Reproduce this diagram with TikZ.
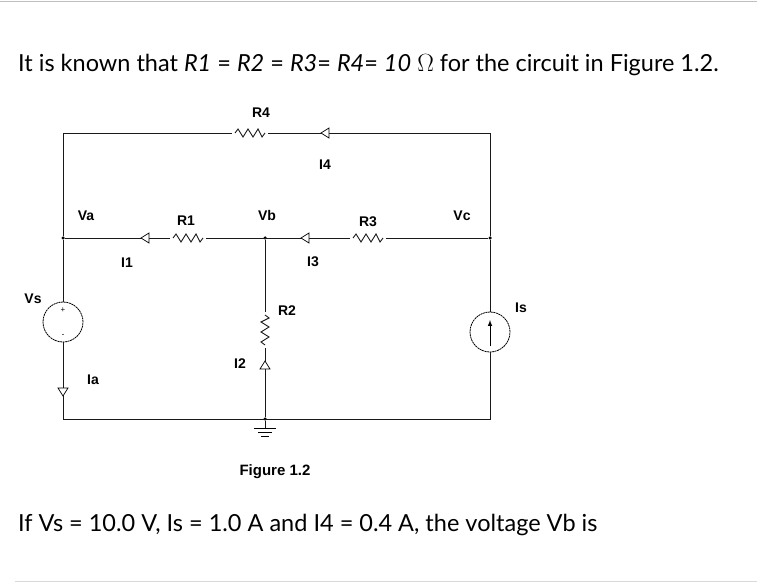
\documentclass[tikz,border=0pt]{standalone}
\usepackage{fontspec}
\setmainfont{Lato}
\newfontfamily\lbl{Liberation Sans}
\begin{document}
\begin{tikzpicture}[x=1pt,y=-1pt,
  wire/.style={line width=0.9pt,gray!20!black},
  lab/.style={font=\lbl\bfseries\fontsize{14}{15}\selectfont,inner sep=1pt},
  txt/.style={font=\fontsize{23.5}{26}\selectfont,inner sep=0pt,anchor=west},
  res/.pic={\draw[wire] (-15,0) -- (-12,-4) -- (-7,4) -- (-2,-4) -- (3,4) -- (8,-4) -- (12,4) -- (15,0);},
  tri/.pic={\draw[line width=0.7pt,fill=white] (-4,0) -- (4,-5) -- (4,5) -- cycle;},
  src/.style={circle,draw,dash pattern=on 2pt off 0.6pt,line width=0.8pt,minimum size=40pt,inner sep=0pt},
  dot/.style={circle,fill=black,inner sep=0pt,minimum size=3.5pt}]
\useasboundingbox (0,0) rectangle (757,585);
\draw[gray!50,line width=1pt] (0,2) -- (757,2);
\draw[gray!30,line width=1pt] (15,581) -- (757,581);
\node[txt] (t1) at (18,65) {It is known that \textit{R1} = \textit{R2} = \textit{R3}= \textit{R4}= \textit{10} {\bfseries\itshape $\Omega$} for the circuit in Figure 1.2.};
\node[txt] (t2) at (18,525) {If Vs = 10.0 V, Is = 1.0 A and I4 = 0.4 A, the voltage Vb is};
\node[lab,font=\lbl\bfseries\fontsize{15}{16}\selectfont] (fig) at (275,472) {Figure 1.2};
% nodes
\coordinate (tl) at (63,133); \coordinate (tr) at (490,133);
\node[dot] (va) at (63,238) {}; \node[dot] (vb) at (265,238) {}; \node[dot] (vc) at (490,238) {};
\coordinate (bl) at (63,419); \coordinate (br) at (490,419);
\node[dot] (gnd) at (265,419) {};
\node[src] (vs) at (63,322) {};
\node[src] (is) at (490,332) {};
% wires
\draw[wire] (tl) -- (tr) -- (vc) -- (is.north);
\draw[wire] (is.south) -- (br) -- (bl) -- (vs.south);
\draw[wire] (vs.north) -- (va) -- (tl);
\draw[wire] (va) -- (vc);
\draw[wire] (vb) -- (gnd);
% resistors
\fill[white] (232,125) rectangle (268,141); \pic at (250,133) {res};
\fill[white] (170,230) rectangle (206,246); \pic at (188,238) {res};
\fill[white] (350,230) rectangle (386,246); \pic at (368,238) {res};
\fill[white] (257,312) rectangle (273,348); \pic[rotate=90] at (265,330) {res};
% current arrows
\pic at (325,133) {tri}; \pic at (145,238) {tri}; \pic at (305,238) {tri};
\pic[rotate=-90] at (265,365) {tri}; \pic[rotate=90] at (63,392) {tri};
\draw[line width=1pt,-latex] (490,346) -- (490,320);
\node[font=\fontsize{8}{8}\selectfont] at (63,310) {+};
\node[font=\fontsize{8}{8}\selectfont] at (63,336) {-};
% ground
\draw[wire] (gnd) -- (265,428);
\draw[line width=0.8pt] (254,428) -- (276,428) (258,432) -- (272,432) (261,436) -- (269,436);
% labels
\node[lab] (lR4) at (261,113) {R4};
\node[lab] (lI4) at (325,165) {I4};
\node[lab] (lVa) at (86,216) {Va};
\node[lab] (lR1) at (186,221) {R1};
\node[lab] (lVb) at (267,215) {Vb};
\node[lab] (lR3) at (368,222) {R3};
\node[lab] (lVc) at (462,216) {Vc};
\node[lab] (lI1) at (127,263) {I1};
\node[lab] (lI3) at (313,262) {I3};
\node[lab] (lVs) at (33,299) {Vs};
\node[lab] (lR2) at (287,311) {R2};
\node[lab] (lIs) at (521,308) {Is};
\node[lab] (lI2) at (240,364) {I2};
\node[lab] (lIa) at (93,380) {Ia};
\end{tikzpicture}
\end{document}
